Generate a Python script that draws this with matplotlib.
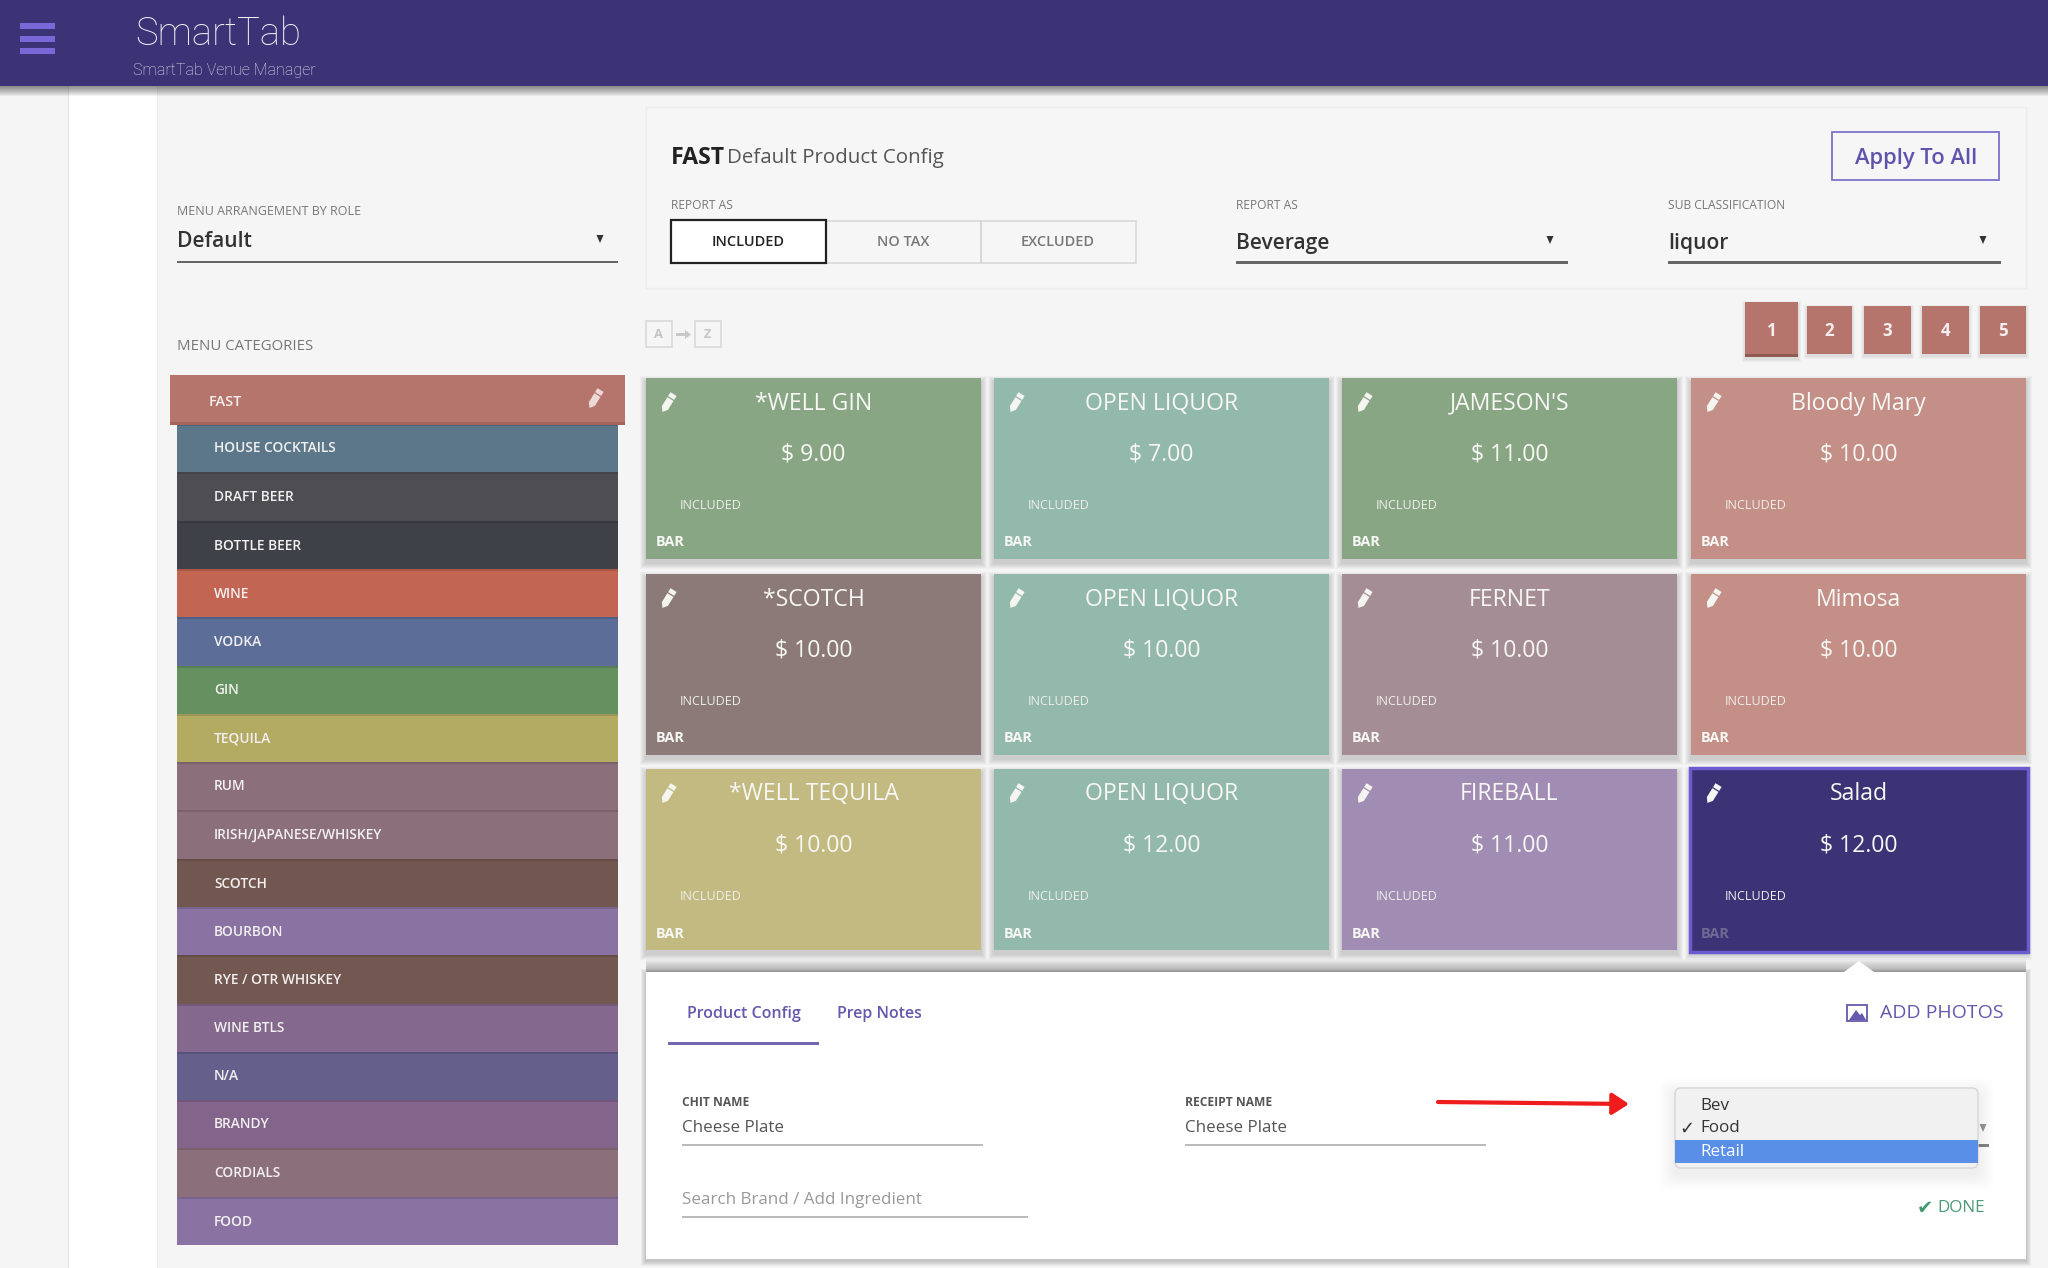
#Recreates the SmartTab venue manager screen, axes are in image pixels (origin top left)

from matplotlib import pyplot as plt
from matplotlib import patches as mp

W = 2048
H = 1268

FONT = 'Open Sans'
PURPLE = '#3b3376'
ROSE = '#b6756c'

CATEGORIES = ['HOUSE COCKTAILS', 'DRAFT BEER', 'BOTTLE BEER', 'WINE', 'VODKA', 'GIN', 'TEQUILA', 'RUM',
              'IRISH/JAPANESE/WHISKEY', 'SCOTCH', 'BOURBON', 'RYE / OTR WHISKEY', 'WINE BTLS', 'N/A',
              'BRANDY', 'CORDIALS', 'FOOD']
CATEGORY_COLORS = ['#5b7789', '#4d4d52', '#3f4149', '#c26552', '#5c6e98', '#65905f', '#b3ab62', '#8b707b',
                   '#8b707b', '#725751', '#8a72a3', '#735851', '#84688e', '#655f8b', '#83648b', '#8b707b',
                   '#8a72a3']

PRODUCTS = ['*WELL GIN', 'OPEN LIQUOR', "JAMESON'S", 'Bloody Mary',
            '*SCOTCH', 'OPEN LIQUOR', 'FERNET', 'Mimosa',
            '*WELL TEQUILA', 'OPEN LIQUOR', 'FIREBALL', 'Salad']
PRICES = ['$ 9.00', '$ 7.00', '$ 11.00', '$ 10.00',
          '$ 10.00', '$ 10.00', '$ 10.00', '$ 10.00',
          '$ 10.00', '$ 12.00', '$ 11.00', '$ 12.00']
PRODUCT_COLORS = ['#88a684', '#93b8ac', '#88a684', '#c38f87',
                  '#8b7a77', '#93b8ac', '#a48d95', '#c38f87',
                  '#c2ba80', '#93b8ac', '#a18cb4', PURPLE]

SEGMENTS = ['INCLUDED', 'NO TAX', 'EXCLUDED']
PAGES = ['1', '2', '3', '4', '5']
DROPDOWN = ['Bev', 'Food', 'Retail']

fig = plt.figure(figsize=(W / 100, H / 100), dpi=100, facecolor='#f5f5f5')
ax = fig.add_axes([0, 0, 1, 1])
ax.set_xlim(0, W)
ax.set_ylim(H, 0)
ax.axis('off')


def rect(x0, y0, x1, y1, color, **kw):
    ax.add_patch(mp.Rectangle((x0, y0), x1 - x0, y1 - y0, facecolor=color, edgecolor='none', **kw))


def box(x0, y0, x1, y1, color, lw=1.0, face='none'):
    ax.add_patch(mp.Rectangle((x0, y0), x1 - x0, y1 - y0, facecolor=face, edgecolor=color, linewidth=lw))


def shadow(x0, y0, x1, y1, spread=6, offset=4, alpha=0.028):
    for i in range(spread, 0, -1):
        rect(x0 - i, y0 - i + offset, x1 + i, y1 + i + offset, 'black', alpha=alpha)


def label(x, y, s, px, color='#333333', ha='left', weight='normal', **kw):
    ax.text(x, y + 1.5, s, fontsize=px * 0.72, color=color, ha=ha, va='center', family=FONT, weight=weight, **kw)


def pencil(cx, cy, size, color):
    #tip at bottom left, small gap before the eraser end
    ux, uy = 0.53, -0.85
    nx, ny = 0.85, 0.53
    half = size * 0.17
    tip = (cx - ux * size / 2, cy - uy * size / 2)
    a = size * 0.22
    b = size * 0.72
    c = size * 0.78
    d = size * 1.0

    def pt(along, side):
        return (tip[0] + ux * along + nx * side, tip[1] + uy * along + ny * side)

    ax.add_patch(mp.Polygon([tip, pt(a, -half), pt(b, -half), pt(b, half), pt(a, half)], facecolor=color, edgecolor='none'))
    ax.add_patch(mp.Polygon([pt(c, -half), pt(d, -half), pt(d, half), pt(c, half)], facecolor=color, edgecolor='none'))


def triangle(cx, cy, color='#333333'):
    ax.add_patch(mp.Polygon([(cx - 3.5, cy - 4), (cx + 3.5, cy - 4), (cx, cy + 4)], facecolor=color, edgecolor='none'))


#header and side strips
rect(69, 86, 157, H, 'white')
rect(68, 86, 69, H, '#e4e4e4')
rect(157, 86, 158, H, '#ebebeb')
for i in range(10):
    rect(0, 86, W, 87 + i, 'black', alpha=0.05)
rect(0, 0, W, 86, PURPLE)
for y0 in [23, 36, 48]:
    rect(20, y0, 55, y0 + 6, '#7a68d8')
ax.text(135, 34, 'SmartTab', fontsize=27.5, color='#f0eff6', ha='left', va='center', family='Roboto', weight='light')
ax.text(133, 70, 'SmartTab Venue Manager', fontsize=11.5, color='#e2e0ee', ha='left', va='center', family='Roboto', weight='light')

#left column
label(177, 210, 'MENU ARRANGEMENT BY ROLE', 12.5, '#777777')
label(177, 240, 'Default', 21, '#333333', weight='semibold')
rect(177, 261, 618, 263, '#666666')
triangle(600, 239)
label(177, 345, 'MENU CATEGORIES', 15, '#777777')

ROW_TOP = 424
ROW_H = 48.3
for i, name in enumerate(CATEGORIES):
    y0 = round(ROW_TOP + i * ROW_H)
    y1 = round(ROW_TOP + (i + 1) * ROW_H)
    rect(177, y0, 618, y1, CATEGORY_COLORS[i])
    rect(177, y0, 618, y0 + 2, 'black', alpha=0.12)
    label(214, (y0 + y1) / 2 - 1, name, 13.7, '#f2f0f0', weight='semibold')
rect(170, 375, 625, 424, ROSE)
rect(170, 422, 625, 425, '#a4645b')
label(209, 400, 'FAST', 14.5, '#f6eeee', weight='semibold')
pencil(595, 399, 21, '#ecd8d4')

#default product config panel
rect(646, 107, 2026, 288, '#f6f6f6')
box(646, 107, 2026, 288, '#ececec')
ax.text(671, 158.5, 'FAST', fontsize=23 * 0.72, color='#222222', ha='left', va='center', family=FONT, weight='bold')
label(727, 157, 'Default Product Config', 20.5, '#555555')
box(1832, 132, 1999, 180, '#7d73c8', lw=1.3)
label(1916, 157, 'Apply To All', 22, '#5f54ad', ha='center', weight='semibold')
label(671, 204, 'REPORT AS', 12, '#777777')
for i, name in enumerate(SEGMENTS):
    x0 = 671 + i * 155
    if i == 0:
        continue
    box(x0, 221, x0 + 155, 263, '#d6d6d6', lw=1.1)
    label(x0 + 77, 241, name, 14.5, '#777777', ha='center', weight='semibold')
box(671, 220, 826, 263, '#222222', lw=1.6, face='white')
label(748, 241, SEGMENTS[0], 14.5, '#222222', ha='center', weight='semibold')
label(1236, 204, 'REPORT AS', 12, '#777777')
label(1236, 242, 'Beverage', 21, '#333333', weight='semibold')
rect(1236, 261, 1568, 264, '#666666')
triangle(1550, 240)
label(1668, 204, 'SUB CLASSIFICATION', 12, '#777777')
label(1668, 242, 'liquor', 21, '#333333', weight='semibold')
rect(1668, 261, 2001, 264, '#666666')
triangle(1983, 240)

#A -> Z sort and pages
box(646, 321, 672, 347, '#d6d6d6', lw=1.1)
label(659, 333, 'A', 13, '#c4c4c4', ha='center', weight='bold')
rect(676, 333, 686, 336, '#c8c8c8')
ax.add_patch(mp.Polygon([(685, 330), (691, 334.5), (685, 339)], facecolor='#c8c8c8', edgecolor='none'))
box(695, 321, 721, 347, '#d6d6d6', lw=1.1)
label(708, 333, 'Z', 13, '#c4c4c4', ha='center', weight='bold')

PAGE_X = [(1745, 1798), (1807, 1852), (1864, 1911), (1922, 1969), (1980, 2026)]
for i, name in enumerate(PAGES):
    x0, x1 = PAGE_X[i]
    y0, y1 = (302, 357) if i == 0 else (306, 354)
    shadow(x0, y0, x1, y1, spread=3, offset=2, alpha=0.03)
    rect(x0, y0, x1, y1, ROSE)
    if i == 0:
        rect(x0, y1 - 3, x1, y1, '#8e5a52')
    label((x0 + x1) / 2, 329, name, 17, '#f6eeee', ha='center', weight='bold')

#product cards
CARD_X = [646, 994, 1342, 1691]
CARD_W = 335
CARD_H = 181
CARD_PITCH = 195.5
for i, name in enumerate(PRODUCTS):
    x0 = CARD_X[i % 4]
    y0 = round(378 + (i // 4) * CARD_PITCH)
    xc = x0 + CARD_W / 2
    shadow(x0, y0, x0 + CARD_W, y0 + CARD_H)
    if name == 'Salad':
        box(x0 - 1, y0 - 1, x0 + CARD_W + 2, y0 + CARD_H + 2, '#6a5bcf', lw=2.5, face=PURPLE)
    else:
        rect(x0, y0, x0 + CARD_W, y0 + CARD_H, PRODUCT_COLORS[i])
    pencil(x0 + 22, y0 + 25, 21, '#f4f4f0')
    label(xc, y0 + 24, name, 23, '#f7f7f4', ha='center')
    label(xc, y0 + 75, PRICES[i], 23, '#f7f7f4', ha='center')
    label(x0 + 34, y0 + 126, 'INCLUDED', 12.5, '#eeeeea')
    bar_color = '#6f6a95' if name == 'Salad' else '#f7f7f4'
    label(x0 + 10, y0 + 163, 'BAR', 14.5, bar_color, weight='bold')

#product detail panel
for i in range(13, 0, -1):
    rect(646, 972 - i, 2026, 972, 'black', alpha=0.022)
shadow(646, 972, 2026, 1259, spread=5, offset=2, alpha=0.04)
rect(646, 972, 2026, 1259, 'white')
ax.add_patch(mp.Polygon([(1844, 972), (1859, 961), (1874, 972)], facecolor='white', edgecolor='none'))

label(687, 1012, 'Product Config', 16, '#6558ad', weight='semibold')
label(837, 1012, 'Prep Notes', 16, '#6558ad', weight='semibold')
rect(668, 1042, 819, 1045, '#7468b5')
box(1847, 1005, 1867, 1021, '#6558ad', lw=1.3)
ax.add_patch(mp.Polygon([(1849, 1020), (1856, 1010), (1860, 1015), (1862, 1013), (1866, 1020)],
                        facecolor='#6558ad', edgecolor='none'))
label(1880, 1012, 'ADD PHOTOS', 19.5, '#6558ad')

label(682, 1101, 'CHIT NAME', 12, '#555555', weight='bold')
label(682, 1127, 'Cheese Plate', 17, '#555555')
rect(682, 1144, 983, 1146, '#bbbbbb')
label(1185, 1101, 'RECEIPT NAME', 12, '#555555', weight='bold')
label(1185, 1127, 'Cheese Plate', 17, '#555555')
rect(1185, 1144, 1486, 1146, '#bbbbbb')
label(682, 1199, 'Search Brand / Add Ingredient', 17, '#999999')
rect(682, 1216, 1028, 1218, '#bbbbbb')

#red annotation arrow
ax.annotate('', xy=(1629, 1104), xytext=(1438, 1102),
            arrowprops=dict(arrowstyle='-|>,head_length=1.0,head_width=0.65', color='#ee1c1c', lw=3, shrinkA=0, shrinkB=0))

#select behind the open dropdown
rect(1978, 1144, 1989, 1147, '#888888')
triangle(1983, 1128, '#999999')

#open dropdown
for i in range(16, 0, -1):
    ax.add_patch(mp.FancyBboxPatch((1675 - i, 1088 - i + 6), 303 + 2 * i, 80 + 2 * i, boxstyle='round,pad=0,rounding_size=10',
                                   facecolor='black', edgecolor='none', alpha=0.005))
ax.add_patch(mp.FancyBboxPatch((1675, 1088), 303, 80, boxstyle='round,pad=0,rounding_size=6',
                               facecolor='#f1f1f1', edgecolor='#d6d6d6', linewidth=1))
rect(1675, 1140, 1978, 1163, '#5a8fe8')
ROW_Y = [1104, 1127, 1150]
for i, name in enumerate(DROPDOWN):
    label(1700, ROW_Y[i], name, 17, 'white' if name == 'Retail' else '#333333')
ax.text(1687, 1129, '\u2713', fontsize=13, color='#333333', ha='center', va='center', family='DejaVu Sans', weight='bold')

ax.text(1925, 1208, '\u2714', fontsize=14, color='#3f9a72', ha='center', va='center', family='DejaVu Sans')
label(1937, 1206, 'DONE', 17, '#4a9a78')

plt.savefig('out.png', dpi=100)
